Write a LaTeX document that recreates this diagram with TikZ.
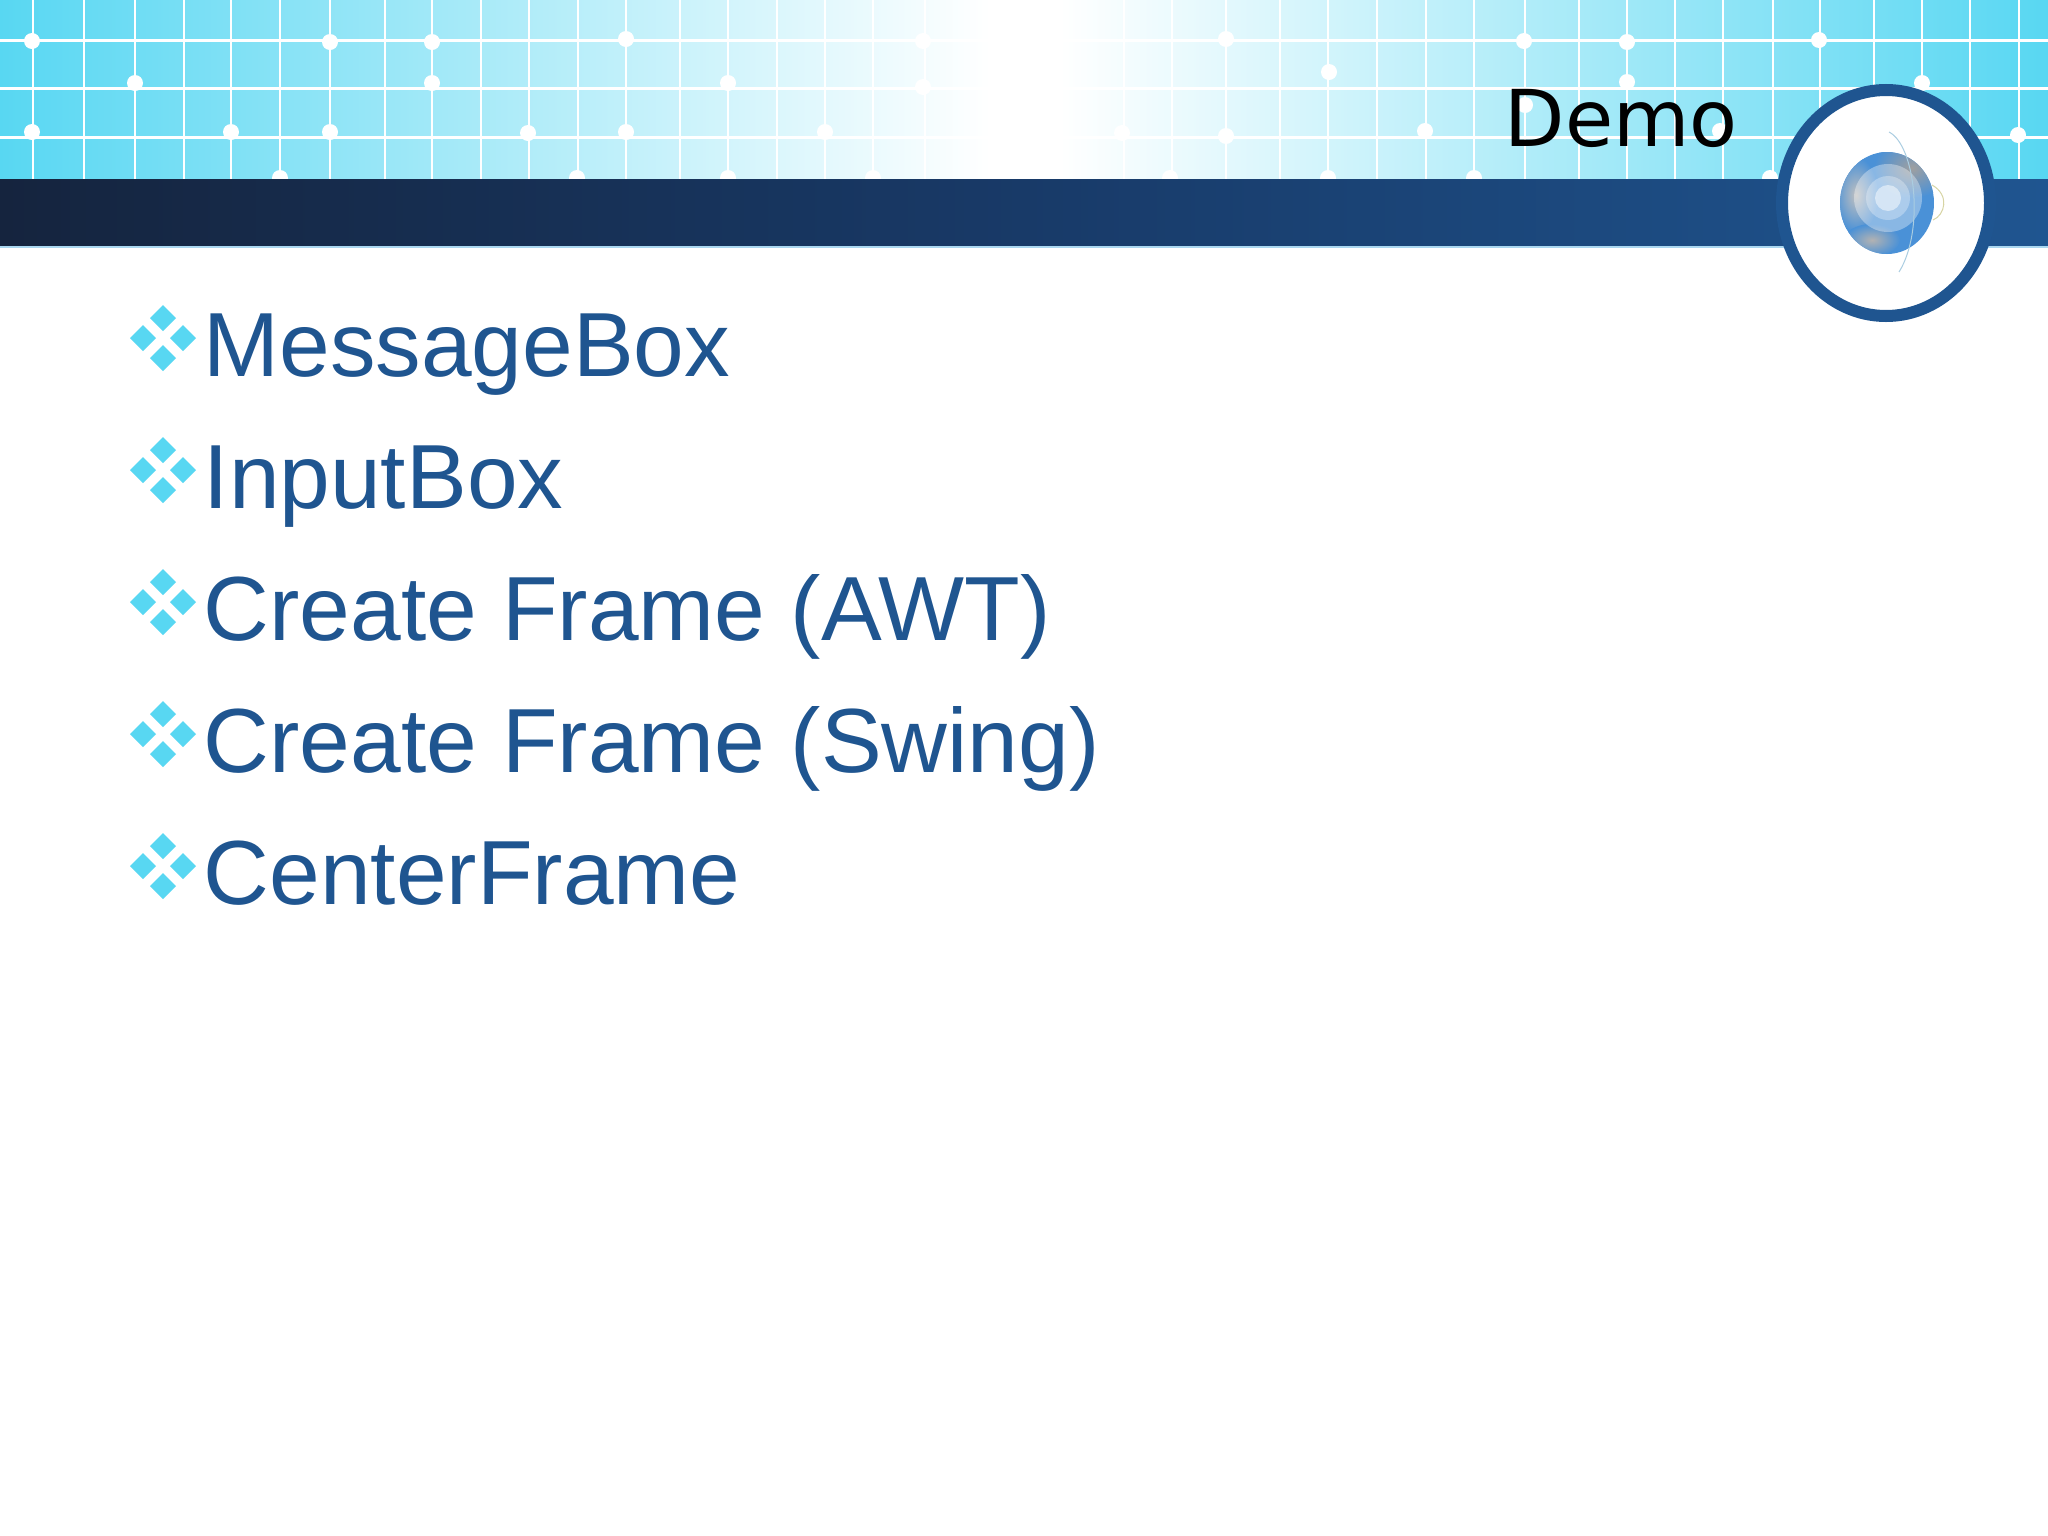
\documentclass[tikz,border=0pt]{standalone}
\usepackage{fontspec}
\setmainfont{Liberation Sans}
\newfontfamily\titlefont{DejaVu Sans}
\tikzset{
  gridline/.style={draw=white,line width=0.02cm},
  griddot/.style={fill=white},
  listitem/.style={anchor=base west,inner sep=0pt,text=itemcolor,font=\fontsize{25.9}{30}\selectfont},
  titleitem/.style={anchor=base west,inner sep=0pt,text=black,font=\titlefont\fontsize{22.3}{26}\selectfont},
  bulletmark/.pic={
    \foreach \dx/\dy in {0/-20,0/20,-20/0,20/0}
      \fill [bulletcolor] (\dx-13,\dy) -- (\dx,\dy-13) -- (\dx+13,\dy) -- (\dx,\dy+13) -- cycle;
  }
}
\begin{document}
\begin{tikzpicture}[x=0.01cm,y=-0.01cm]
\definecolor{headcolor}{RGB}{88,215,242}
\definecolor{darkcolor}{RGB}{21,36,62}
\definecolor{midcolor}{RGB}{24,58,104}
\definecolor{bandcolor}{RGB}{31,85,144}
\definecolor{itemcolor}{RGB}{31,85,144}
\definecolor{bulletcolor}{RGB}{88,215,242}
\definecolor{edgecolor}{RGB}{170,215,240}
\definecolor{globecolor}{RGB}{74,145,215}
\definecolor{orbitcolor}{RGB}{170,205,225}
\useasboundingbox (0,0) rectangle (2048,1536);
\fill [white] (0,0) rectangle (2048,1536);
\fill [left color=headcolor,right color=white] (0,0) rectangle (990,179);
\fill [left color=white,right color=headcolor] (1060,0) rectangle (2048,179);
\foreach \ypos in {40,88,137}
  \draw [gridline,line width=0.03cm] (0,\ypos) -- (2048,\ypos);
\foreach \xpos in {33,84,135,184,231,280,330,385,432,481,529,578,626,680,728,777,825,873,925,1124,1172,1226,1280,1328,1377,1426,1474,1525,1579,1627,1675,1723,1773,1820,1874,1922,1970,2019}
  \draw [gridline] (\xpos,0) -- (\xpos,179);
\foreach \xpos/\ypos in {32/41,330/42,432/42,626/39,923/41,135/83,432/83,728/83,923/87,32/132,231/132,330/132,528/133,626/132,825/132,280/178,577/178,728/178,873/178,1226/39,1524/41,1627/42,1819/40,1329/72,1627/82,1922/83,1122/133,1226/136,1425/131,1720/131,2018/135,1525/105,1170/178,1328/178,1474/178,1770/178}
  \fill [griddot] (\xpos,\ypos) circle [radius=8];
\fill [left color=darkcolor,right color=midcolor] (0,179) rectangle (1024,246);
\fill [left color=midcolor,right color=bandcolor] (1024,179) rectangle (2048,246);
\draw [edgecolor,line width=0.012cm] (0,247) -- (2048,247);
\fill [white,draw=bandcolor,line width=0.12cm] (1886,203) ellipse [x radius=104,y radius=113];
\begin{scope}
\clip (1887,203) ellipse [x radius=47,y radius=51];
\fill [globecolor] (1840,150) rectangle (1935,255);
\shade [inner color=gray!75,outer color=globecolor] (1912,168) ellipse [x radius=38,y radius=30];
\shade [inner color=gray!50,outer color=globecolor] (1856,195) ellipse [x radius=22,y radius=38];
\shade [inner color=gray!60,outer color=globecolor] (1872,240) ellipse [x radius=28,y radius=16];
\shade [inner color=white,outer color=white,opacity=0.35] (1888,198) circle [radius=34];
\fill [white,opacity=0.3] (1888,198) circle [radius=22];
\fill [white,opacity=0.5] (1888,198) circle [radius=13];
\end{scope}
\draw [orbitcolor,line width=0.01cm] (1889,132) .. controls (1915,145) and (1925,230) .. (1899,272);
\draw [yellow!40!gray!60,line width=0.01cm] (1932,185) .. controls (1950,195) and (1945,215) .. (1933,220);
\node [titleitem] (demotitle) at (1504,146) {Demo};
\foreach \name/\ypos/\txt in {msgbox/376/MessageBox,inputbox/508/InputBox,frameawt/640/Create Frame (AWT),frameswing/772/Create Frame (Swing),centerframe/904/CenterFrame} {
  \pic at (163,\ypos-38) {bulletmark};
  \node [listitem] (\name) at (203,\ypos) {\txt};
}
\end{tikzpicture}
\end{document}
